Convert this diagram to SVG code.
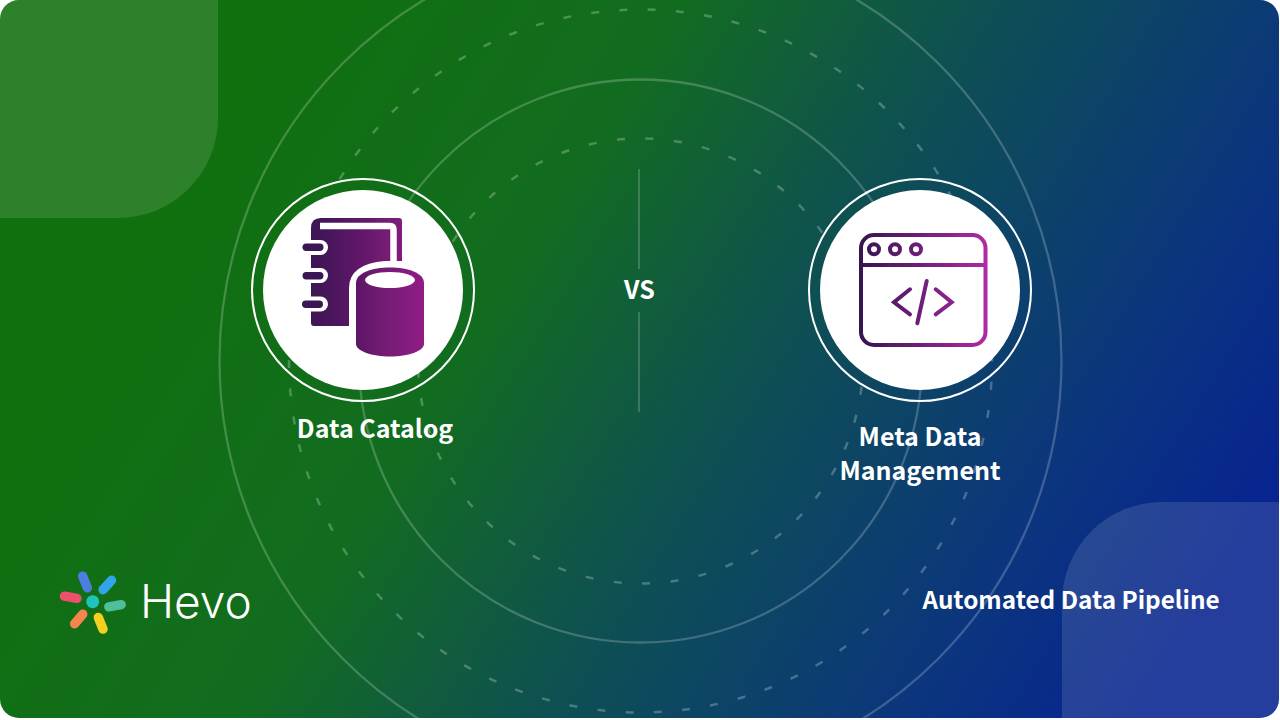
<svg xmlns="http://www.w3.org/2000/svg" width="1280" height="720" viewBox="0 0 1280 720">
<style>
.ring{fill:none;stroke:#fff;stroke-opacity:.21;stroke-width:2.300}
.dash{fill:none;stroke:#fff;stroke-opacity:.25;stroke-width:2.500}
.label{font-family:"Noto Sans CJK SC","Noto Sans",sans-serif;font-weight:700;fill:#fff;text-anchor:middle}
.disc{fill:#fff}
.halo{fill:none;stroke:#fff;stroke-width:2}
</style>
<defs>
<linearGradient id="bg" gradientUnits="userSpaceOnUse" x1="0" y1="0" x2="1191" y2="735">
<stop offset=".179" stop-color="#10700e"/><stop offset=".413" stop-color="#126c20"/><stop offset=".498" stop-color="#115f38"/><stop offset=".6" stop-color="#0e5052"/><stop offset=".832" stop-color="#0b3480"/><stop offset=".959" stop-color="#072490"/>
</linearGradient>
<linearGradient id="p1" gradientUnits="userSpaceOnUse" x1="302" y1="290" x2="424" y2="290">
<stop offset="0" stop-color="#34154f"/><stop offset="1" stop-color="#911d85"/>
</linearGradient>
<linearGradient id="p2" gradientUnits="userSpaceOnUse" x1="858" y1="290" x2="988" y2="290">
<stop offset="0" stop-color="#34154f"/><stop offset="1" stop-color="#b02aa5"/>
</linearGradient>
<filter id="soft" x="-5%" y="-5%" width="110%" height="110%"><feGaussianBlur stdDeviation=".45"/></filter>
<clipPath id="card"><rect width="1279" height="718" rx="19"/></clipPath>
</defs>
<rect width="1280" height="720" fill="#fff"/>
<g clip-path="url(#card)">
<rect width="1280" height="720" fill="url(#bg)"/>
<path d="M0 0H218V118A100 100 0 0 1 118 218H0Z" fill="#fff" fill-opacity=".12"/>
<path d="M1280 502H1162A100 100 0 0 0 1062 602V720H1280Z" fill="#fff" fill-opacity=".12"/>
<g id="rings">
<circle class="ring" cx="640.500" cy="361" r="421"/>
<circle class="dash" cx="640.500" cy="361" r="351.500" stroke-dasharray="8 20.31" stroke-dashoffset="7.39"/>
<circle class="ring" cx="640.500" cy="361" r="281.500"/>
<circle class="dash" cx="640.500" cy="361" r="222.500" stroke-dasharray="8 20.53" stroke-dashoffset="2.61"/>
</g>
</g>
<g id="connectors" stroke="#fff" stroke-opacity=".18" stroke-width="2">
<line x1="639" y1="169" x2="639" y2="269"/>
<line x1="639" y1="312" x2="639" y2="412"/>
</g>
<g id="node-catalog">
<circle class="halo" cx="363" cy="290" r="111"/>
<circle class="disc" cx="363" cy="290" r="100"/>
<g filter="url(#soft)">
<path d="M311 228Q311 218 321 218H399Q402 218 402 221V261H385Q349 264 349 288V326H314Q311 326 311 323Z" fill="url(#p1)"/>
<path d="M320 226H390Q393.500 226 393.500 230V262" fill="none" stroke="#fff" stroke-width="6.500"/>
<rect x="296" y="240" width="32" height="15" rx="7.500" fill="#fff"/>
<rect x="296" y="268" width="32" height="15" rx="7.500" fill="#fff"/>
<rect x="296" y="296.500" width="32" height="15" rx="7.500" fill="#fff"/>
<rect x="302.500" y="243.500" width="21" height="7.500" rx="3.700" fill="#3a1654"/>
<rect x="302.500" y="272" width="21" height="7.500" rx="3.700" fill="#3a1654"/>
<rect x="302" y="300.500" width="21" height="7.500" rx="3.700" fill="#3a1654"/>
<path d="M356 283C356 273 372 267.500 390 267.500C408 267.500 424 273 424 283V344C424 351 408 356.500 390 356.500C372 356.500 356 351 356 344Z" fill="url(#p1)"/>
<ellipse cx="390" cy="280" rx="25" ry="8" fill="#fff"/>
</g>
<text class="label" x="375" y="438" font-size="25">Data Catalog</text>
</g>
<g id="node-vs"><text class="label" x="639.500" y="299" font-size="25">VS</text></g>
<g id="node-meta">
<circle class="halo" cx="920" cy="290" r="111"/>
<circle class="disc" cx="920" cy="290" r="100"/>
<g fill="none" stroke="url(#p2)" stroke-width="4" stroke-linecap="round" filter="url(#soft)">
<rect x="861" y="235" width="124.500" height="110" rx="13"/>
<path d="M861 265H985"/>
<circle cx="874" cy="249.300" r="5"/><circle cx="895" cy="249.300" r="5"/><circle cx="916" cy="249.300" r="5"/>
<path d="M910 289.300L894 302.300L910 314.300M935.700 289.300L951.700 302.300L935.700 314.300M926.700 281L917.300 323.300"/>
</g>
<text class="label" x="920" y="446" font-size="25">Meta Data</text>
<text class="label" x="920" y="480" font-size="25">Management</text>
</g>
<g id="logo">
<g>
<rect x="-4.700" y="-11" width="9.400" height="22" rx="4.700" fill="#4a7fe0" transform="translate(85 582) rotate(-22)"/>
<rect x="-4.700" y="-11" width="9.400" height="22" rx="4.700" fill="#31a5e8" transform="translate(107.300 585) rotate(42)"/>
<rect x="-4.700" y="-11" width="9.400" height="22" rx="4.700" fill="#ee4f6f" transform="translate(70.700 597.300) rotate(-80)"/>
<rect x="-4.700" y="-11" width="9.400" height="22" rx="4.700" fill="#4fbf9a" transform="translate(115 605.700) rotate(80)"/>
<rect x="-4.700" y="-11" width="9.400" height="22" rx="4.700" fill="#f4854c" transform="translate(78.700 619) rotate(40)"/>
<rect x="-4.700" y="-11" width="9.400" height="22" rx="4.700" fill="#f7cf1e" transform="translate(100.700 623.300) rotate(-22)"/>
<circle cx="92.700" cy="601.700" r="6.500" fill="#1fc2bc"/>
</g>
<text x="140" y="618" font-family="Inter,'Liberation Sans',sans-serif" font-weight="300" font-size="46" fill="#fff">Hevo</text>
</g>
<g id="tagline"><text class="label" x="1071" y="609" font-size="24.300">Automated Data Pipeline</text></g>
</svg>
